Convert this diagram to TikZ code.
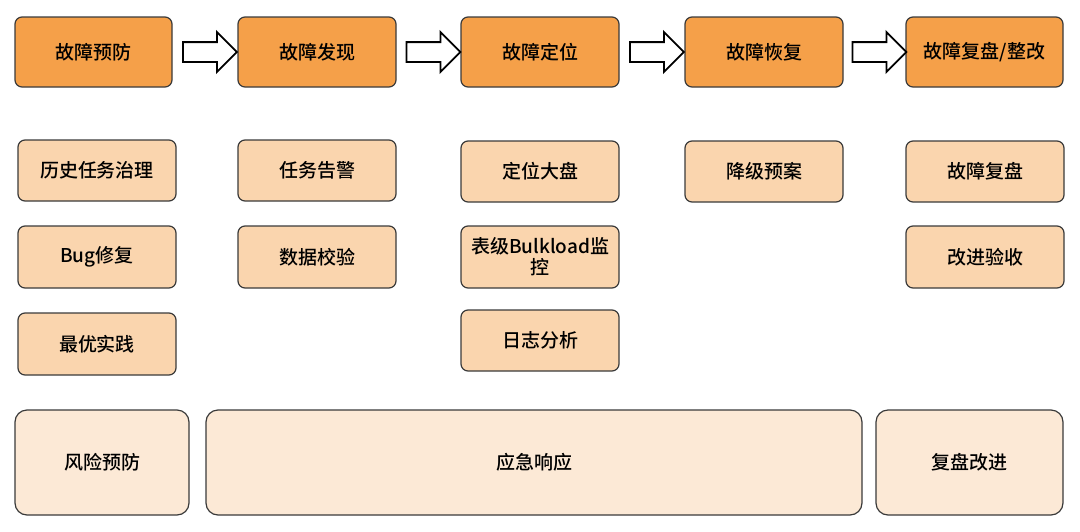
\documentclass[tikz,border=0pt]{standalone}
\usepackage{fontspec}
\setmainfont{Noto Sans CJK SC Medium}
\usetikzlibrary{shapes.arrows,calc}
\definecolor{topc}{HTML}{F5A049}
\definecolor{midc}{HTML}{FAD5AE}
\definecolor{botc}{HTML}{FCE9D6}
\definecolor{edge}{HTML}{3A3A3A}
\begin{document}
\begin{tikzpicture}[x=1pt,y=-1pt,
 bx/.style={draw=edge,line width=1.2pt,rounded corners=7pt,align=center,font=\fontsize{19}{21}\selectfont,inner sep=2pt},
 topbox/.style={bx,fill=topc},
 midbox/.style={bx,fill=midc},
 botbox/.style={bx,fill=botc,rounded corners=12pt},
 harrow/.style={single arrow,draw=black,line width=1.8pt,fill=white,minimum height=54pt,minimum width=38pt,inner xsep=0pt,inner ysep=9pt,single arrow head extend=10pt,single arrow tip angle=90}]
\useasboundingbox (0,0) rectangle (1080,531);
\newcommand\bxat[7]{\node[#1,minimum width=#4pt-#2pt,minimum height=#5pt-#3pt] (#6) at ({(#2+#4)/2},{(#3+#5)/2}) {#7};}
\bxat{topbox}{15}{17}{172}{87}{t1}{故障预防}
\bxat{topbox}{238}{17}{396}{87}{t2}{故障发现}
\bxat{topbox}{461}{17}{619}{87}{t3}{故障定位}
\bxat{topbox}{685}{17}{843}{87}{t4}{故障恢复}
\bxat{topbox}{906}{17}{1063}{87}{t5}{故障复盘/整改}
\foreach \a/\b in {t1/t2,t2/t3,t3/t4,t4/t5}
 \node[harrow] (ar\a) at ($(\a.east)!0.5!(\b.west)$) {};
\bxat{midbox}{18}{140}{176}{201}{a1}{历史任务治理}
\bxat{midbox}{18}{226}{176}{288}{a2}{Bug修复}
\bxat{midbox}{18}{313}{176}{375}{a3}{最优实践}
\bxat{midbox}{238}{140}{396}{201}{b1}{任务告警}
\bxat{midbox}{238}{226}{396}{288}{b2}{数据校验}
\bxat{midbox}{461}{141}{619}{202}{c1}{定位大盘}
\bxat{midbox}{461}{226}{619}{288}{c2}{表级Bulkload监\\控}
\bxat{midbox}{461}{310}{619}{371}{c3}{日志分析}
\bxat{midbox}{685}{141}{843}{202}{d1}{降级预案}
\bxat{midbox}{906}{141}{1064}{202}{e1}{故障复盘}
\bxat{midbox}{906}{226}{1064}{288}{e2}{改进验收}
\bxat{botbox}{15}{410}{189}{515}{f1}{风险预防}
\bxat{botbox}{206}{410}{862}{515}{f2}{应急响应}
\bxat{botbox}{876}{410}{1063}{515}{f3}{复盘改进}
\end{tikzpicture}
\end{document}
